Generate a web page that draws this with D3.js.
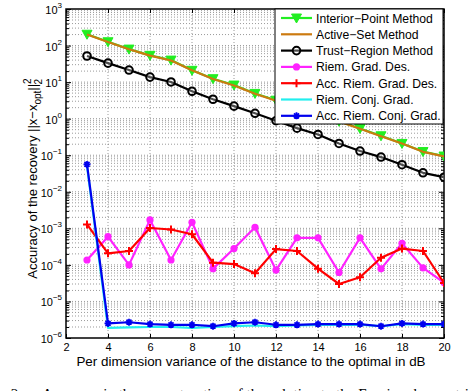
<!DOCTYPE html>
<html><head><meta charset="utf-8">
<script src="https://cdn.jsdelivr.net/npm/d3@7"></script>
<style>body{margin:0;background:#fff}svg{display:block}</style>
</head><body>
<svg id="c" width="474" height="391"></svg>
<script>
const xValues = [3,4,5,6,7,8,9,10,11,12,13,14,15,16,17,18,19,20];
const interiorPoint = [204,127,80,54,40,21,12.4,8.3,4.9,3.2,2.0,1.3,0.85,0.54,0.34,0.21,0.126,0.095];
const activeSet = [200,125,79,53,39,21,12.2,8.1,4.8,3.1,2.0,1.3,0.84,0.53,0.33,0.21,0.124,0.093];
const trustRegion = [51.8,33,21.4,13.7,10.1,5.6,3.4,2.2,1.4,0.88,0.55,0.37,0.21,0.13,0.089,0.055,0.033,0.025];
const riemGrad = [1.36e-4,5.9e-4,1.0e-4,1.7e-3,1.36e-4,1.46e-3,7.9e-5,2.8e-4,1.07e-3,7.2e-5,5.5e-4,5.5e-4,6.2e-5,5.5e-4,7.8e-5,3.9e-4,8.3e-5,3.3e-5];
const accRiemGrad = [1.28e-3,2.07e-4,2.4e-4,1.02e-3,9.3e-4,6.9e-4,1.15e-4,1.05e-4,5.9e-5,2.7e-4,2.4e-4,7.9e-5,3.0e-5,4.6e-5,1.57e-4,2.8e-4,2.4e-4,3.2e-5];
const riemConj = [0.05,1.9e-6,1.95e-6,2.0e-6,2.0e-6,1.9e-6,2.0e-6,2.1e-6,2.2e-6,2.1e-6,2.2e-6,2.3e-6,2.3e-6,2.3e-6,2.1e-6,2.4e-6,2.3e-6,2.3e-6];
const accRiemConj = [0.056,2.5e-6,2.7e-6,2.4e-6,2.3e-6,2.3e-6,2.1e-6,2.5e-6,2.7e-6,2.3e-6,2.3e-6,2.4e-6,2.4e-6,2.4e-6,2.1e-6,2.5e-6,2.4e-6,2.4e-6];
const seriesNames = ["Interior\u2212Point Method","Active\u2212Set Method","Trust\u2212Region Method","Riem. Grad. Des.","Acc. Riem. Grad. Des.","Riem. Conj. Grad.","Acc. Riem. Conj. Grad."];
const seriesColors = ["#22ee22","#cc7a10","#000000","#ff22ff","#ff0000","#22eeee","#0000ee"];
const seriesMarkers = ["tri","none","circle","dot","plus","none","star"];
const xTicks = [2,4,6,8,10,12,14,16,18,20];
const yExponents = [3,2,1,0,-1,-2,-3,-4,-5,-6];
const xLabel = "Per dimension variance of the distance to the optimal in dB";

const seriesValues = [interiorPoint, activeSet, trustRegion, riemGrad, accRiemGrad, riemConj, accRiemConj];

const L=66, T=9, W=378, H=329;
const svg = d3.select("#c");
const font = "'Liberation Sans', Arial, Helvetica, sans-serif";
const x = d3.scaleLinear().domain([2,20]).range([L, L+W]);
const y = d3.scaleLog().domain([1e-6,1e3]).range([T+H, T]);

// grid
const g = svg.append("g");
const minor = [];
for (let e=-6; e<3; e++) for (let k=1; k<10; k++) minor.push(k*Math.pow(10,e));
g.selectAll("line.hg").data(minor.filter(v=>v>1e-6)).enter().append("line")
  .attr("x1",L).attr("x2",L+W).attr("y1",d=>y(d)).attr("y2",d=>y(d))
  .attr("stroke","#555").attr("stroke-width",0.6).attr("stroke-dasharray","1,2");
g.selectAll("line.vg").data(xTicks.slice(1,-1)).enter().append("line")
  .attr("x1",d=>x(d)).attr("x2",d=>x(d)).attr("y1",T).attr("y2",T+H)
  .attr("stroke","#555").attr("stroke-width",0.6).attr("stroke-dasharray","1,2");

// axes
const xAxis = d3.axisBottom(x).tickValues(xTicks).tickSize(-4).tickPadding(5).tickFormat(d3.format("d"));
const xg = svg.append("g").attr("transform",`translate(0,${T+H})`).call(xAxis);
xg.select(".domain").remove();
xg.selectAll("line").attr("stroke","#000");
xg.selectAll("text").attr("font-family",font).attr("font-size",11).attr("fill","#000");
const xgT = svg.append("g").attr("transform",`translate(0,${T})`).call(d3.axisTop(x).tickValues(xTicks).tickSize(-4).tickFormat(""));
xgT.select(".domain").remove(); xgT.selectAll("line").attr("stroke","#000");

const yAxis = d3.axisLeft(y).tickValues(minor.concat([1e3])).tickSize(-3).tickFormat("");
const yg = svg.append("g").attr("transform",`translate(${L},0)`).call(yAxis);
yg.select(".domain").remove(); yg.selectAll("line").attr("stroke","#000").attr("x2",d=>{const l=Math.log10(d);return Math.abs(l-Math.round(l))<1e-9?5:3;});
const ygR = svg.append("g").attr("transform",`translate(${L+W},0)`).call(d3.axisRight(y).tickValues(minor.concat([1e3])).tickSize(-3).tickFormat(""));
ygR.select(".domain").remove(); ygR.selectAll("line").attr("stroke","#000").attr("x2",d=>{const l=Math.log10(d);return Math.abs(l-Math.round(l))<1e-9?-5:-3;});

// y tick labels
const yl = svg.append("g");
yExponents.forEach(e=>{
  const t = yl.append("text").attr("x",L-4).attr("y",y(Math.pow(10,e))+5)
    .attr("text-anchor","end").attr("font-family",font).attr("font-size",11).attr("fill","#000");
  t.append("tspan").text("10");
  t.append("tspan").attr("dy",-6).attr("font-size",8).text(e<0?"\u2212"+(-e):String(e));
});

// box
svg.append("rect").attr("x",L).attr("y",T).attr("width",W).attr("height",H)
  .attr("fill","none").attr("stroke","#000").attr("stroke-width",1.5);

// clip
svg.append("clipPath").attr("id","clip").append("rect").attr("x",L).attr("y",T).attr("width",W).attr("height",H);
const plot = svg.append("g").attr("clip-path","url(#clip)");

const line = d3.line().x((d,i)=>x(xValues[i])).y(d=>y(d));

function drawMarker(sel, type, color, cx, cy){
  if (type==="tri"){
    sel.append("path").attr("d",`M${cx-5},${cy-4}L${cx+5},${cy-4}L${cx},${cy+5}Z`).attr("fill",color).attr("stroke",color).attr("stroke-width",1);
  } else if (type==="circle"){
    sel.append("circle").attr("cx",cx).attr("cy",cy).attr("r",3.8).attr("fill","#fff").attr("fill-opacity",0.3).attr("stroke",color).attr("stroke-width",2);
  } else if (type==="dot"){
    sel.append("circle").attr("cx",cx).attr("cy",cy).attr("r",3.6).attr("fill",color);
  } else if (type==="plus"){
    sel.append("path").attr("d",`M${cx-4},${cy}L${cx+4},${cy}M${cx},${cy-4}L${cx},${cy+4}`).attr("stroke",color).attr("stroke-width",2);
  } else if (type==="star"){
    sel.append("path").attr("d",`M${cx-3.5},${cy}L${cx+3.5},${cy}M${cx},${cy-3.5}L${cx},${cy+3.5}M${cx-2.5},${cy-2.5}L${cx+2.5},${cy+2.5}M${cx-2.5},${cy+2.5}L${cx+2.5},${cy-2.5}`).attr("stroke",color).attr("stroke-width",1.8);
  }
}

seriesValues.forEach((vals,si)=>{
  const col = seriesColors[si];
  plot.append("path").datum(vals).attr("d",line).attr("fill","none").attr("stroke",col).attr("stroke-width",2.2).attr("stroke-linejoin","round");
  const mg = plot.append("g");
  vals.forEach((v,i)=>drawMarker(mg, seriesMarkers[si], col, x(xValues[i]), y(v)));
});

// legend
const lx=275, ly=9, lw=168, lh=115;
const lg = svg.append("g");
lg.append("rect").attr("x",lx).attr("y",ly).attr("width",lw).attr("height",lh).attr("fill","#fff").attr("stroke","#000").attr("stroke-width",1);
seriesNames.forEach((n,i)=>{
  const yy = ly+9+i*16.3;
  lg.append("line").attr("x1",lx+6).attr("x2",lx+37).attr("y1",yy).attr("y2",yy).attr("stroke",seriesColors[i]).attr("stroke-width",2.2);
  drawMarker(lg, seriesMarkers[i], seriesColors[i], lx+21.5, yy);
  lg.append("text").attr("x",lx+41).attr("y",yy+4.5).attr("font-family",font).attr("font-size",12.2).attr("fill","#000").text(n);
});

// axis labels
svg.append("text").attr("x",251).attr("y",366).attr("text-anchor","middle").attr("font-family",font).attr("font-size",13.4).attr("fill","#000").text(xLabel);
const ylab = svg.append("text").attr("transform",`translate(37,${T+H/2+5}) rotate(-90)`).attr("text-anchor","middle").attr("font-family",font).attr("font-size",13).attr("fill","#000");
ylab.append("tspan").text("Accuracy of the recovery ||x\u2212x");
ylab.append("tspan").attr("dy",4).attr("font-size",10).text("opt");
ylab.append("tspan").attr("dy",-4).text("||");
ylab.append("tspan").attr("dy",-6).attr("font-size",10).text("2");
ylab.append("tspan").attr("dx",-6).attr("dy",11).attr("font-size",10).text("2");

// caption (partially visible, cut by the bottom edge as in the reference)
svg.append("text").attr("x",22).attr("y",399).attr("text-anchor","end").attr("font-family","'Liberation Serif', 'DejaVu Serif', serif").attr("font-size",15).attr("fill","#000").text("Fig. 2.");
svg.append("text").attr("x",42).attr("y",399).attr("font-family","'Liberation Serif', 'DejaVu Serif', serif").attr("font-size",15).attr("fill","#000").text("Accuracy in the reconstruction of the solution to the Fourier phase retrieval problem");
</script>
</body></html>
